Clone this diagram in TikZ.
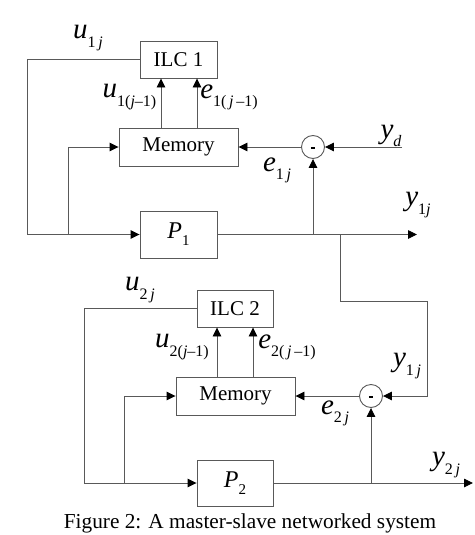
\documentclass[tikz,border=0pt]{standalone}
\usepackage{fontspec}
\setmainfont{Liberation Serif}
\usetikzlibrary{arrows.meta}
\newcommand\lab[2]{\textit{#1}\raisebox{-0.28em}{\fontsize{16}{16}\selectfont #2}}
\tikzset{
  ln/.style={draw=black!65, line width=0.9pt},
  arr/.style={ln, -{Triangle[length=9pt,width=8.5pt,color=black]}},
  blk/.style={draw=black!65, line width=0.9pt, rectangle, inner sep=0pt, font=\fontsize{21}{21}\selectfont},
  sumc/.style={draw=black!65, line width=0.9pt, circle, minimum size=23pt, inner sep=0pt},
  lbl/.style={font=\fontsize{29}{29}\selectfont, inner sep=0pt}
}
\begin{document}
\begin{tikzpicture}[x=1pt,y=-1pt]
\useasboundingbox (0,0) rectangle (474,535);
% blocks
\node[blk, minimum width=77pt, minimum height=37pt] (ilc1) at (178.5,59.5) {ILC 1};
\node[blk, minimum width=119pt, minimum height=38pt] (mem1) at (178.5,147) {Memory};
\node[sumc] (sum1) at (313,147) {};
\node[blk, minimum width=77pt, minimum height=47pt, font=\fontsize{24}{24}\selectfont] (p1) at (178.5,234.5) {\textit{P}\raisebox{-0.3em}{\fontsize{15}{15}\selectfont 1}};
\node[blk, minimum width=76pt, minimum height=37pt] (ilc2) at (235,308.5) {ILC 2};
\node[blk, minimum width=119pt, minimum height=38pt] (mem2) at (235.5,396) {Memory};
\node[sumc] (sum2) at (371,396) {};
\node[blk, minimum width=76pt, minimum height=46pt, font=\fontsize{24}{24}\selectfont] (p2) at (235,483) {\textit{P}\raisebox{-0.3em}{\fontsize{15}{15}\selectfont 2}};
% minus signs
\draw[black, line width=1.6pt] ([xshift=-2.2pt,yshift=-1pt]sum1.center) -- ([xshift=2.2pt,yshift=-1pt]sum1.center);
\draw[black, line width=1.6pt] ([xshift=-2.2pt,yshift=-1pt]sum2.center) -- ([xshift=2.2pt,yshift=-1pt]sum2.center);
% coordinates
\coordinate (l1) at (27,59.5);
\coordinate (l1b) at (27,234.5);
\coordinate (m1) at (68,234.5);
\coordinate (yd) at (402,147);
\coordinate (o1) at (417,234.5);
\coordinate (s1) at (313,234.5);
\coordinate (b1) at (340,234.5);
\coordinate (b2) at (340,301);
\coordinate (b3) at (427,301);
\coordinate (b4) at (427,396);
\coordinate (l2) at (84,308.5);
\coordinate (l2b) at (84,483);
\coordinate (m2) at (124,483);
\coordinate (o2) at (473,483);
\coordinate (s2) at (371,483);
% stage 1
\draw[arr] (ilc1.west) -- (l1) -- (l1b) -- (p1.west);
\draw[arr] (m1) |- (mem1.west);
\draw[arr] (mem1.north -| 161,0) -- (ilc1.south -| 161,0);
\draw[arr] (mem1.north -| 197,0) -- (ilc1.south -| 197,0);
\draw[arr] (sum1.west) -- (mem1.east);
\draw[arr] (yd) -- (sum1.east);
\draw[arr] (p1.east) -- (o1);
\draw[arr] (s1) -- (sum1.south);
\draw[arr] (b1) -- (b2) -- (b3) -- (b4) -- (sum2.east);
% stage 2
\draw[arr] (ilc2.west) -- (l2) -- (l2b) -- (p2.west);
\draw[arr] (m2) |- (mem2.west);
\draw[arr] (mem2.north -| 217,0) -- (ilc2.south -| 217,0);
\draw[arr] (mem2.north -| 253,0) -- (ilc2.south -| 253,0);
\draw[arr] (sum2.west) -- (mem2.east);
\draw[arr] (p2.east) -- (o2);
\draw[arr] (s2) -- (sum2.south);
% labels
\node[lbl] (lu1) at (88,38) {\lab{u}{1\,\textit{j}}};
\node[lbl] (lu1p) at (129.5,97) {\lab{u}{1(\textit{j}--1)}};
\node[lbl] (le1p) at (229,97) {\lab{e}{1(\,\textit{j}\,--1)}};
\node[lbl] (lyd) at (391,136) {\lab{y}{\textit{d}}};
\node[lbl] (le1) at (277,170) {\lab{e}{1\,\textit{j}}};
\node[lbl] (ly1) at (418,205) {\lab{y}{1\textit{j}}};
\node[lbl] (lu2) at (140,290) {\lab{u}{2\,\textit{j}}};
\node[lbl] (lu2p) at (182,347) {\lab{u}{2(\textit{j}--1)}};
\node[lbl] (le2p) at (287,347) {\lab{e}{2(\,\textit{j}\,--1)}};
\node[lbl] (ly1b) at (407,366) {\lab{y}{1\,\textit{j}}};
\node[lbl] (le2) at (335,413) {\lab{e}{2\,\textit{j}}};
\node[lbl] (ly2) at (446,465) {\lab{y}{2\,\textit{j}}};
% caption
\node[inner sep=0pt, font=\fontsize{21.3}{22}\selectfont] (cap) at (250,523) {Figure 2: A master-slave networked system};
\end{tikzpicture}
\end{document}
